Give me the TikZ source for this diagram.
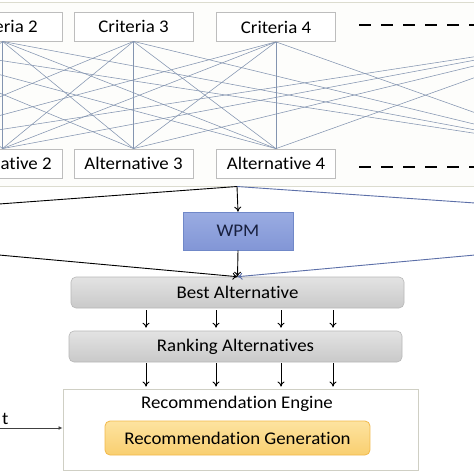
\documentclass[tikz,border=0pt]{standalone}
\usepackage{fontspec}
\setmainfont{Carlito}[FakeStretch=1.06, Ligatures=CommonOff]
\usetikzlibrary{arrows.meta}
\definecolor{boxgrey}{HTML}{BDBDBD}
\definecolor{webblue}{HTML}{8394B0}
\definecolor{framec}{HTML}{DCDCCF}
\definecolor{framebg}{HTML}{FDFDFB}
\definecolor{wpmtop}{HTML}{9AACE2}
\definecolor{wpmbot}{HTML}{8296D6}
\definecolor{wpmline}{HTML}{7088C8}
\definecolor{wpmtext}{HTML}{18203F}
\definecolor{gtop}{HTML}{E3E3E3}
\definecolor{gbot}{HTML}{C9C9C9}
\definecolor{gline}{HTML}{B8B8B8}
\definecolor{otop}{HTML}{FDE3A0}
\definecolor{obot}{HTML}{F9CF70}
\definecolor{oline}{HTML}{F2B94A}
\definecolor{engline}{HTML}{CFCFC4}
\definecolor{bluearrow}{HTML}{5C6FA8}
\begin{document}
\begin{tikzpicture}[x=1pt,y=-1pt,
  txt/.style={font=\fontsize{17.8}{20}\selectfont, text=black},
  critbox/.style={txt, draw=boxgrey, fill=white, line width=0.8pt, minimum width=119pt, minimum height=29pt, inner sep=0pt},
  web/.style={draw=webblue, line width=0.55pt},
  dashline/.style={draw=black, line width=2.5pt, dash pattern=on 12pt off 10pt},
  flow/.style={draw=black, line width=0.9pt},
  bflow/.style={draw=bluearrow, line width=0.9pt},
  arr/.style={flow, -{To[length=5pt,width=7pt]}},
  barr/.style={bflow, -{To[length=5pt,width=7pt]}},
  greybox/.style={txt, draw=gline, top color=gtop, bottom color=gbot, rounded corners=5pt, line width=0.6pt, minimum width=333pt, minimum height=31pt, inner sep=0pt},
]
\useasboundingbox (0,0) rectangle (474,474);
\clip (0,0) rectangle (474,474);
\fill[white] (0,0) rectangle (474,474);
% frame
\draw[draw=framec, fill=framebg, line width=1pt] (-300,2) rectangle (800,186);
% criteria and alternatives
\node[critbox] (c2) at (2.5,26.5) {Criteria 2};
\node[critbox] (c3) at (133.5,26.5) {Criteria 3};
\node[critbox] (c4) at (276,27) {Criteria 4};
\node[critbox] (a2) at (2.5,163.5) {Alternative 2};
\node[critbox] (a3) at (133.5,163.5) {Alternative 3};
\node[critbox] (a4) at (276,163.5) {Alternative 4};
\coordinate (c1s) at (-126,41);
\coordinate (c2s) at (c2.south);
\coordinate (c3s) at (c3.south);
\coordinate (c4s) at (c4.south);
\coordinate (c5s) at (577,41);
\coordinate (a1n) at (-126,149);
\coordinate (a2n) at (a2.north);
\coordinate (a3n) at (a3.north);
\coordinate (a4n) at (a4.north);
\coordinate (a5n) at (577,149);
\foreach \i in {1,...,5}{\foreach \j in {1,...,5}{\draw[web] (c\i s) -- (a\j n);}}
% dashes
\coordinate (dt1) at (359,25);
\coordinate (dt2) at (480,25);
\coordinate (db1) at (359,167);
\coordinate (db2) at (480,167);
\draw[dashline] (dt1) -- (dt2);
\draw[dashline] (db1) -- (db2);
% flow
\coordinate (split) at (237,186.5);
\coordinate (lt) at (-1,204);
\coordinate (rt) at (475,203);
\coordinate (lb) at (-1,255);
\coordinate (rb) at (475,255);
\node[txt, draw=wpmline, top color=wpmtop, bottom color=wpmbot, line width=0.6pt, minimum width=110pt, minimum height=38pt, inner sep=0pt, text=wpmtext] (wpm) at (238,231) {WPM};
\node[greybox] (best) at (237.5,292.5) {Best Alternative};
\node[greybox] (rank) at (235.5,346.5) {Ranking Alternatives};
\node[draw=engline, fill=white, line width=1pt, minimum width=355pt, minimum height=81pt, inner sep=0pt] (eng) at (240.5,429.5) {};
\node[txt] (engt) at (237,404) {Recommendation Engine};
\node[txt, draw=oline, top color=otop, bottom color=obot, rounded corners=5pt, line width=0.8pt, minimum width=265pt, minimum height=34pt, inner sep=0pt] (gen) at (237.5,438) {Recommendation Generation};
\draw[flow] (lt) -- (split);
\draw[bflow] (split) -- (rt);
\draw[arr] (split) -- (wpm.north);
\draw[arr] (wpm.south) -- (best.north);
\draw[arr] (lb) -- (best.north);
\draw[barr] (rb) -- (best.north);
\foreach \x in {146,216,281,333}{
  \draw[arr, shorten <=2pt, shorten >=3pt] (best.south -| \x,0) -- (rank.north -| \x,0);
  \draw[arr, shorten <=1pt, shorten >=2pt] (rank.south -| \x,0) -- (eng.north -| \x,0);
}
% input arrow
\coordinate (inp) at (-1,428);
\draw[draw=black!75, line width=0.8pt, -{Latex[length=4pt,width=4pt]}] (inp) -- (eng.west |- inp);
\node[txt, anchor=base west, inner sep=0pt] (tlabel) at (2,424) {t};
\end{tikzpicture}
\end{document}
